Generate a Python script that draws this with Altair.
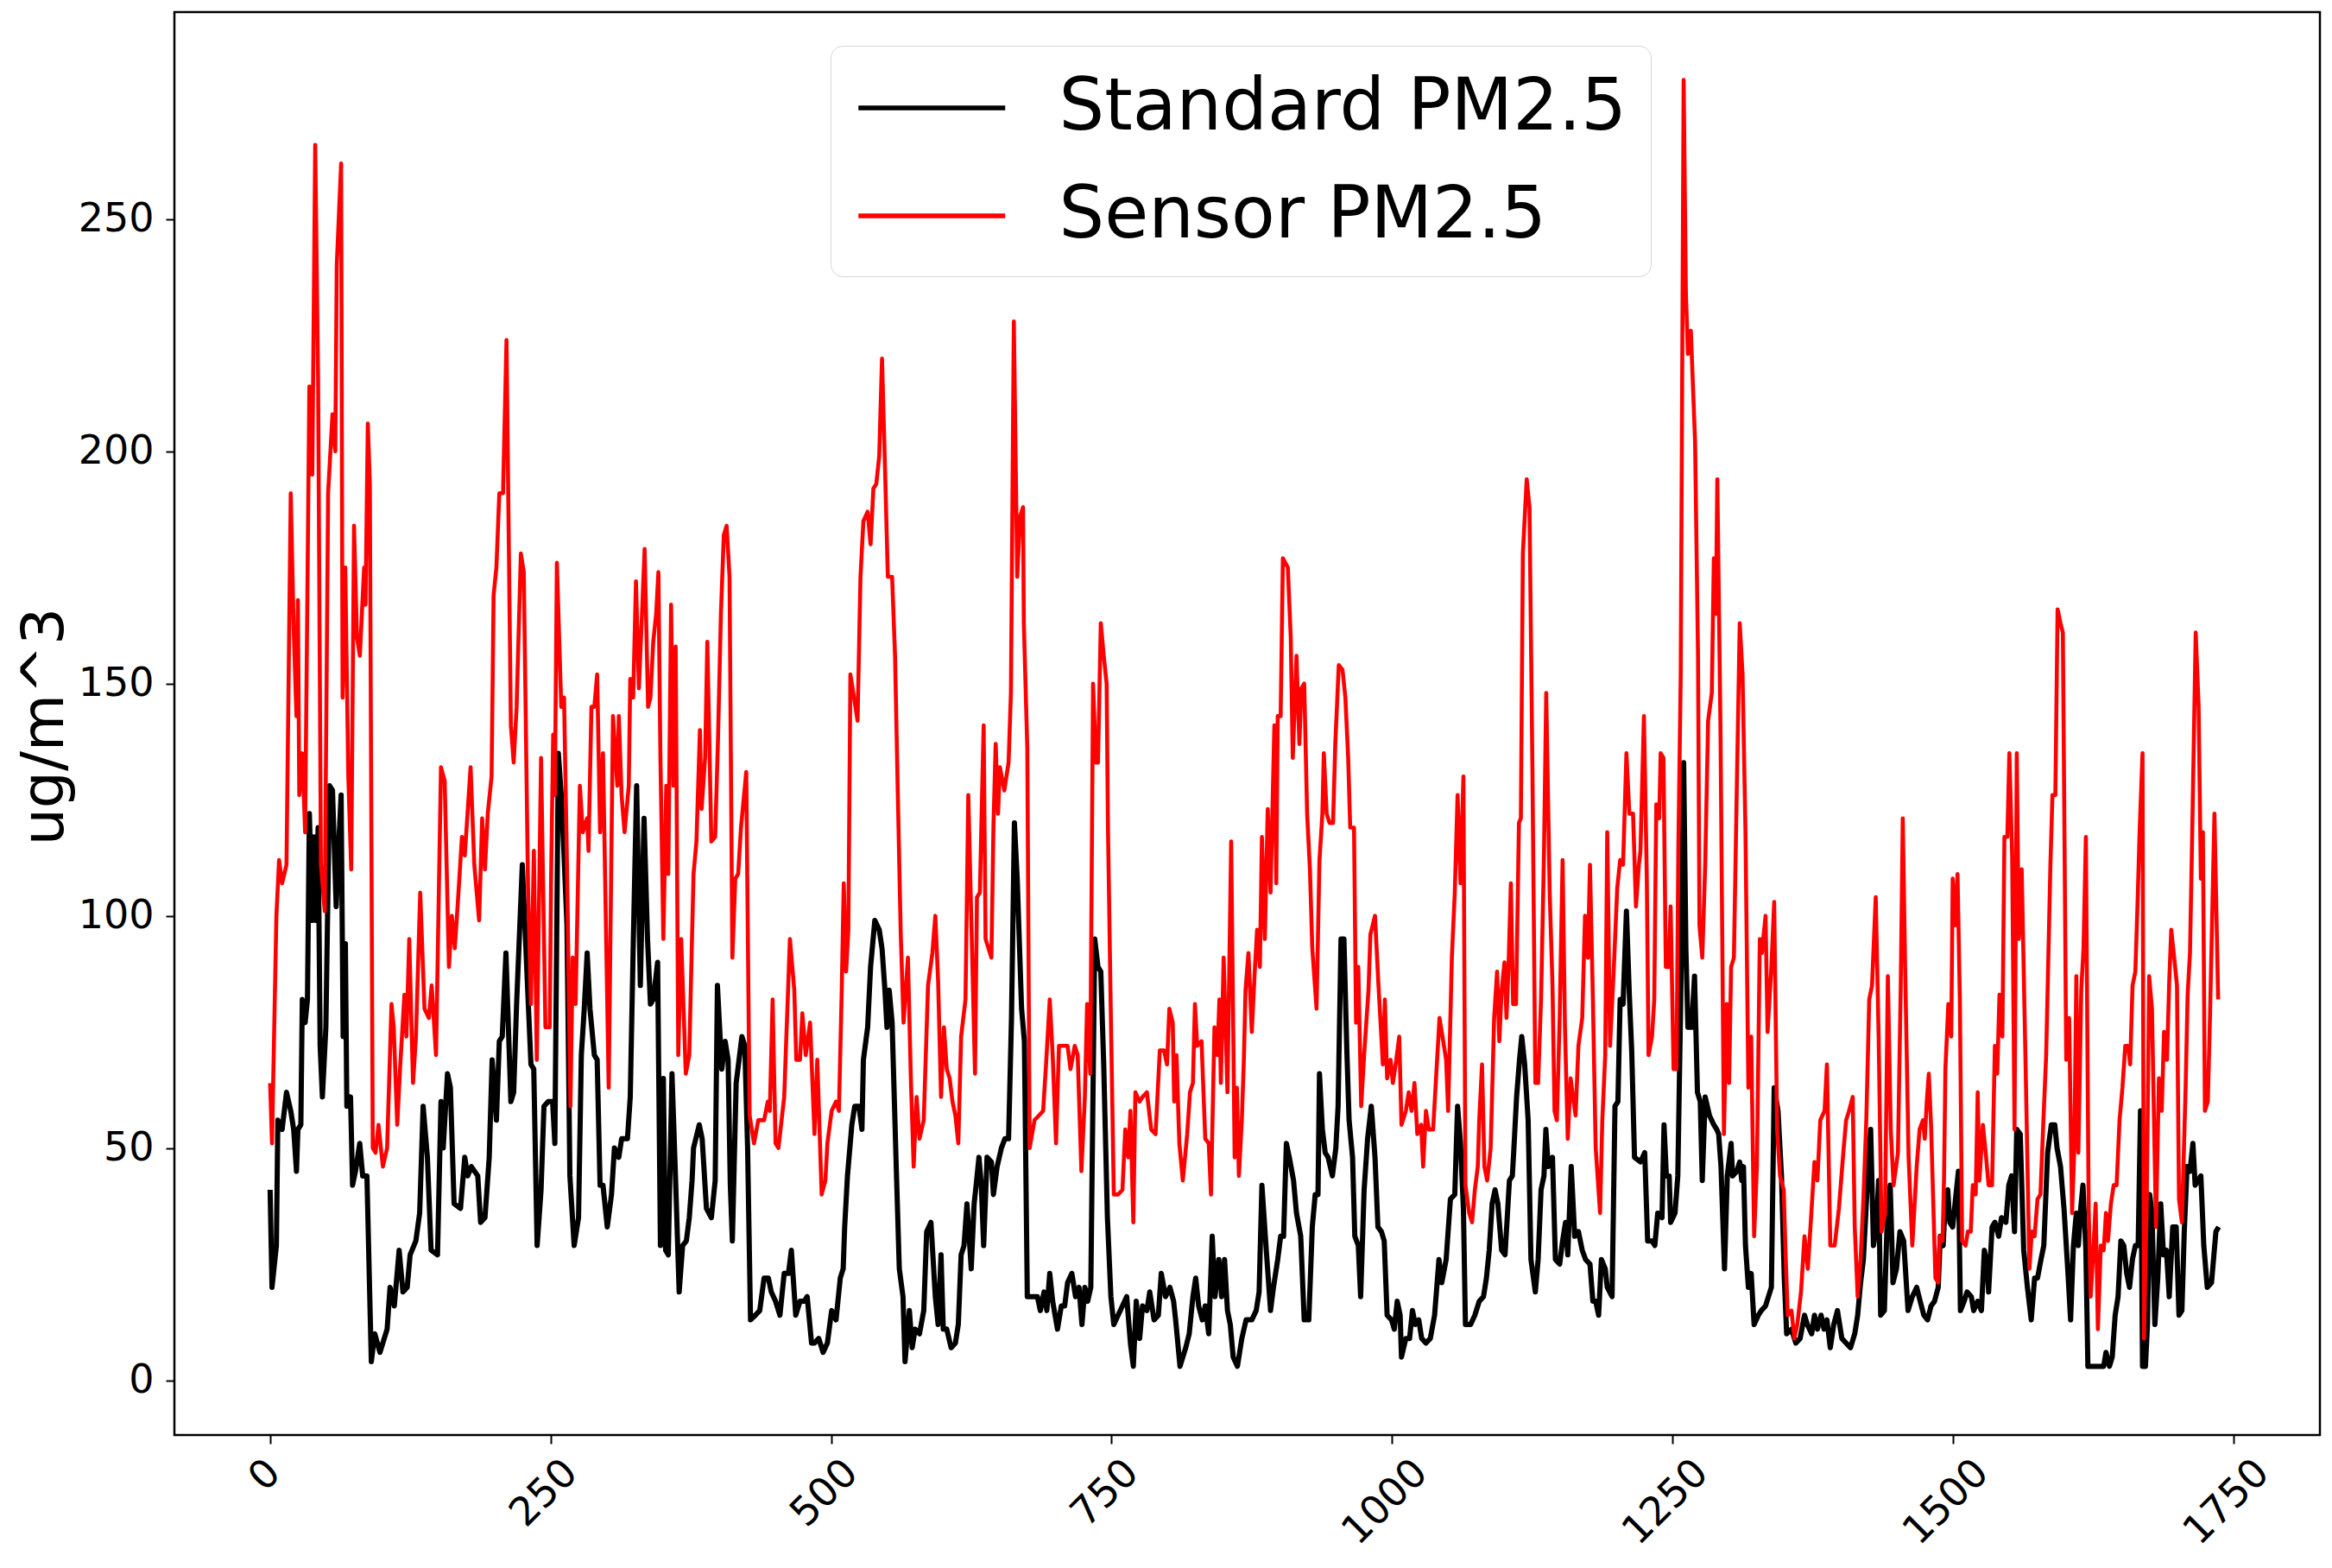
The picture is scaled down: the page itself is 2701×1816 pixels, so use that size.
import altair as alt
import pandas as pd

# ---- Standard PM2.5 (black) ----
std_x = [0, 1.7, 5.6, 6.9, 10.7, 14.6, 18.4, 21, 23.5, 24.8, 27.4, 28.7, 31.2, 33.3, 35, 37.6, 38.9, 41, 42.8, 44.6,
         46.6, 49.7, 53, 55.6, 58.9, 60.7, 63.3, 65.1, 67.1, 68.4, 71.7, 73.5, 76.1, 79.9, 82.5, 86.3, 90.2, 93.3, 97.9, 104.3,
         106.9, 110.7, 115, 118.4, 122.2, 124.8, 129.9, 133.3, 136.4, 140.2, 143.5, 149.2, 152.3, 154.3, 158.1, 160.7, 164, 169.7, 173.5, 176.1,
         179.4, 185.1, 187.6, 191.5, 195.3, 197.9, 201.7, 204.3, 206.9, 210.2, 214.6, 217.1, 219.7, 224.8, 228.7, 232.5, 235, 238, 241.5, 244.1,
         247.9, 251.8, 253.8, 256.9, 259.5, 262, 264.6, 267.2, 271, 274.9, 277.4, 280, 282.6, 285.1, 289, 291.5, 294.1, 296.7, 300.5, 304.3,
         306.9, 310.8, 313.3, 318.5, 321, 323.6, 326.7, 330, 333.3, 336.4, 339, 341.5, 345.4, 347.9, 350.5, 352.5, 354.9, 358.2, 361.3, 364.6,
         367.7, 371, 373.6, 376.1, 377.4, 382.5, 385.1, 388.9, 393.3, 396.7, 398.7, 402.6, 405.6, 408.2, 410.2, 412, 415.4, 420.5, 423.1, 425.6,
         428.2, 432.5, 436.4, 440.3, 444.1, 446.7, 450.5, 454.4, 458.2, 462, 464.6, 468.5, 472.3, 476.1, 478.7, 482.6, 485.2, 489, 492.9, 496.7,
         500.5, 504.4, 508.2, 510.8, 512.1, 514.6, 518.5, 521.1, 524.9, 527.5, 528.8, 532.6, 535.2, 539, 542.9, 545.4, 548, 549.8, 551.8, 554.4,
         558.2, 560.8, 564.1, 565.9, 569.8, 572.3, 574.9, 578.8, 582.6, 585.2, 589, 592.9, 595.4, 598, 600, 603.1, 607, 610.8, 613.4, 615.9,
         618.5, 621.1, 623.6, 624.9, 627.5, 629.3, 631.8, 633.9, 636, 639, 642.9, 644.7, 648, 651.8, 654.9, 658.2, 660.8, 663.4, 665.9, 669.8,
         672.3, 674.9, 680, 683.9, 686.5, 689.8, 692.3, 694.9, 697.5, 701.8, 705.2, 708.2, 710.8, 714.6, 717.9, 721, 723.6, 726.2, 728.7, 731.5,
         735, 737.9, 740.4, 743, 746.3, 749.4, 752, 755.8, 759.7, 763.5, 766.8, 769.4, 772, 775, 777.6, 781.5, 784, 787.9, 791.7, 794.3,
         798.1, 802, 805.3, 807.1, 811, 816.1, 819.2, 822.5, 825, 827.6, 830.9, 833.5, 836.6, 839.7, 842.2, 845.6, 848.1, 850.7, 853.3, 855.8,
         858.4, 862.2, 866.1, 869.9, 875, 878.9, 881.5, 884, 887.9, 891.7, 894.3, 898.1, 900.7, 903.3, 905.8, 908.4, 912.2, 914.8, 918.6, 921.7,
         925.8, 928.9, 931.5, 934, 935.3, 937.9, 940.4, 943, 946.8, 949.9, 951.9, 954.5, 957.1, 959.7, 961.7, 964.8, 966.8, 969.9, 972, 975.1,
         978.2, 981.5, 984.8, 987.4, 990.5, 993, 995.6, 999.5, 1002, 1004.6, 1007.2, 1008.4, 1012.3, 1015.6, 1018.2, 1020.7, 1023.8, 1026.4, 1030.2, 1034.1,
         1037.9, 1041.8, 1044.3, 1048.2, 1052, 1055.9, 1058.4, 1061, 1063.6, 1065.4, 1070, 1073.8, 1077.7, 1081.5, 1084.1, 1086.6, 1089.2, 1091.8, 1094.3, 1097.7,
         1100.7, 1104.6, 1107.2, 1108.4, 1111, 1113.6, 1115.6, 1118.2, 1121.3, 1123.8, 1127.7, 1130.2, 1132.8, 1135.4, 1137.1, 1139.2, 1143, 1145.6, 1149.4, 1152,
         1154.6, 1156.6, 1159.7, 1162.8, 1166.1, 1169.5, 1172.5, 1176.4, 1179, 1181.5, 1184.1, 1186.6, 1190, 1191.8, 1196.1, 1198.7, 1201.3, 1203.3, 1205.9, 1208.9,
         1211.5, 1213.6, 1216.1, 1221.4, 1225.2, 1227.8, 1231.7, 1234.2, 1236.8, 1240.6, 1242.4, 1244.5, 1247, 1248.3, 1252.2, 1254.7, 1257.3, 1259.9, 1261.9, 1263.7,
         1267, 1269.6, 1272.2, 1274.7, 1276.5, 1279.1, 1282.9, 1286.8, 1289.4, 1291.1, 1293.2, 1296.3, 1298.8, 1302.2, 1303.5, 1307.3, 1309.9, 1311.7, 1313.2, 1315,
         1317.6, 1320.1, 1322.7, 1326.5, 1329.1, 1332.9, 1335.5, 1338.1, 1340.6, 1344, 1347.1, 1349.6, 1351.7, 1356, 1359.9, 1363.7, 1367.6, 1370.1, 1374, 1376.5,
         1379.1, 1382.4, 1385, 1387.6, 1390.6, 1393.7, 1397, 1400.9, 1404.7, 1408.6, 1412.4, 1415, 1417.6, 1420.1, 1424, 1426.6, 1429.1, 1431.7, 1433.7, 1435.5,
         1438.8, 1441.4, 1444, 1446.5, 1449.6, 1452.7, 1456, 1459.9, 1463.7, 1467.6, 1470.7, 1474, 1477.3, 1480.4, 1483.5, 1486.8, 1488.6, 1491.2, 1493.2, 1495.3,
         1497.1, 1499.7, 1502.2, 1504.8, 1506.6, 1509.9, 1512.5, 1516.3, 1518.4, 1521.9, 1525.3, 1527.9, 1530.4, 1531.7, 1534.8, 1537.3, 1540.7, 1543.2, 1547.1, 1549.7,
         1552.2, 1554.8, 1556.8, 1559.9, 1563, 1566.3, 1569.7, 1572.7, 1575.3, 1578.4, 1580.9, 1584.3, 1587.6, 1590.7, 1592.7, 1595.8, 1598.9, 1602.2, 1604.8, 1607.3,
         1609.9, 1611.7, 1613.8, 1615.8, 1618.4, 1620.2, 1624, 1627.9, 1631.7, 1634.3, 1636.3, 1639.4, 1641.9, 1644.5, 1647.1, 1649.6, 1652.2, 1654.8, 1657.3, 1659.9,
         1662.5, 1665, 1667.1, 1668.9, 1671.5, 1673.3, 1675.3, 1677.3, 1679.9, 1682.5, 1685.1, 1687.6, 1690.2, 1692.7, 1695.8, 1698.9, 1701.4, 1704, 1706.1, 1708.6,
         1711.2, 1713.8, 1715.8, 1718.4, 1720.9, 1723.5, 1726.6, 1730.4, 1734.3, 1736.8]
std_y = [41, 20, 29, 56, 54, 62, 58, 54, 45, 54, 55, 82, 77, 82, 122, 99, 117, 99, 119, 72,
         61, 76, 128, 127, 102, 113, 126, 74, 94, 59, 61, 42, 45, 51, 44, 44, 4, 10, 6, 11,
         20, 16, 28, 19, 20, 27, 30, 36, 59, 48, 28, 27, 60, 50, 66, 63, 38, 37, 48, 44,
         46, 44, 34, 35, 48, 69, 56, 73, 74, 92, 60, 62, 81, 111, 89, 68, 67, 29, 41, 59,
         60, 60, 51, 135, 126, 113, 98, 44, 29, 35, 70, 80, 92, 80, 70, 69, 42, 42, 33, 40,
         50, 48, 52, 52, 61, 93, 128, 85, 121, 95, 81, 82, 90, 29, 65, 28, 27, 66, 44, 19,
         29, 30, 35, 43, 50, 55, 52, 37, 35, 43, 85, 67, 73, 69, 42, 30, 64, 74, 72, 50,
         13, 14, 15, 22, 22, 19, 17, 14, 23, 23, 28, 14, 17, 17, 18, 8, 8, 9, 6, 8,
         15, 13, 22, 24, 33, 44, 55, 59, 59, 54, 69, 76, 89, 99, 97, 93, 84, 76, 84, 77,
         45, 24, 18, 4, 15, 7, 11, 10, 15, 32, 34, 18, 12, 27, 11, 11, 7, 8, 12, 27,
         29, 38, 29, 24, 38, 42, 48, 42, 29, 48, 47, 40, 46, 50, 52, 52, 78, 120, 108, 80,
         73, 18, 18, 18, 15, 19, 15, 23, 17, 11, 16, 16, 21, 23, 18, 20, 12, 20, 17, 20,
         95, 89, 88, 68, 35, 18, 12, 14, 16, 18, 8, 3, 17, 9, 16, 15, 19, 13, 14, 23,
         18, 20, 17, 13, 3, 7, 10, 18, 22, 16, 13, 16, 10, 31, 18, 26, 18, 26, 15, 12,
         5, 3, 9, 13, 13, 15, 19, 42, 28, 15, 20, 26, 31, 31, 51, 48, 43, 36, 31, 13,
         13, 33, 40, 40, 66, 54, 49, 48, 44, 50, 59, 95, 95, 71, 56, 48, 31, 29, 18, 41,
         52, 59, 48, 33, 32, 30, 14, 13, 11, 17, 14, 5, 9, 9, 15, 12, 13, 9, 8, 9,
         14, 26, 21, 26, 39, 40, 59, 51, 37, 12, 12, 14, 17, 18, 22, 28, 38, 41, 38, 28,
         27, 43, 44, 49, 61, 69, 74, 68, 56, 26, 19, 26, 41, 44, 54, 46, 48, 26, 25, 30,
         34, 27, 46, 31, 32, 28, 26, 25, 17, 17, 14, 26, 24, 20, 18, 59, 60, 82, 81, 101,
         83, 71, 48, 47, 49, 30, 30, 29, 36, 35, 55, 44, 44, 34, 36, 44, 82, 133, 93, 76,
         76, 87, 62, 60, 43, 61, 57, 55, 54, 53, 46, 24, 44, 51, 44, 45, 47, 43, 46, 29,
         20, 23, 12, 14, 15, 16, 18, 20, 63, 58, 44, 22, 10, 11, 8, 9, 14, 12, 10, 14,
         11, 14, 11, 13, 7, 12, 15, 9, 8, 7, 10, 14, 21, 26, 44, 54, 29, 33, 43, 14,
         15, 35, 42, 21, 24, 32, 30, 15, 18, 20, 17, 14, 13, 16, 17, 20, 31, 29, 39, 41,
         34, 33, 39, 45, 15, 17, 19, 18, 15, 17, 15, 28, 25, 19, 33, 34, 31, 35, 34, 42,
         44, 32, 54, 53, 28, 20, 13, 22, 22, 26, 29, 49, 55, 55, 50, 46, 37, 24, 13, 29,
         36, 29, 37, 42, 28, 3, 3, 3, 3, 3, 6, 3, 5, 14, 18, 30, 29, 23, 20, 26,
         29, 29, 58, 3, 3, 12, 40, 36, 12, 22, 38, 27, 28, 18, 33, 33, 14, 15, 32, 46,
         45, 51, 42, 43, 44, 29, 20, 21, 32, 33]

# ---- Sensor PM2.5 (red) ----
sen_x = [0, 1.7, 5.6, 8, 10.7, 14.6, 18.4, 21, 23.5, 24.8, 26, 28.7, 31.2, 35, 37.6, 40.2, 42.8, 45.3, 48.7, 51.7,
         55.6, 58.1, 59.4, 63.3, 64.6, 67, 69.7, 72.3, 74.8, 77.4, 80, 83.8, 85, 87.1, 88.9, 91.5, 94, 96.6, 100.5, 104.3,
         108.2, 110.2, 113.3, 115.8, 119.7, 121.5, 124, 127.4, 130, 133.8, 137.6, 141.5, 144, 147.9, 152.3, 155.6, 159.4, 162, 164.6, 167.1,
         171, 173.5, 178.7, 182, 186.3, 189, 191.5, 194, 197.4, 199.2, 201.7, 204.3, 207.6, 210.7, 214.6, 217.1, 219.7, 223.5, 226.1, 229.9,
         232.5, 235.1, 237.7, 241.5, 245.4, 249.2, 250.5, 252.3, 253.8, 255.6, 259.5, 262, 264.6, 267.7, 269.7, 272.3, 276.1, 278.7, 282.6, 283.8,
         286.4, 289, 291.5, 294.1, 296.7, 301.8, 305.6, 309.5, 310.8, 313.3, 315.9, 319.7, 321, 323.6, 326.1, 328.7, 331.3, 333.8, 336.9, 339,
         341.5, 344.1, 346.1, 347.9, 350.5, 353.1, 354.9, 357.4, 359.5, 361.5, 363.8, 366.4, 370.5, 373.6, 377.4, 380, 383.1, 384.6, 387.7, 389.7,
         393.3, 396.7, 399.2, 401.8, 404.4, 406.9, 409.5, 412, 414.6, 417.2, 419.7, 424.4, 427.4, 431.3, 435.1, 440.3, 443.6, 445.4, 447.9, 450.5,
         453.1, 458.2, 463.3, 467.2, 469, 472.3, 474.4, 477.4, 481.3, 485.2, 487.7, 491.6, 494.9, 496.7, 500.5, 504.4, 507, 509.5, 511.3, 513.4,
         515.4, 517.2, 519.8, 523.6, 526.2, 528.8, 532.6, 535.2, 537.7, 540.3, 542.9, 545.4, 548, 550.6, 554.4, 557, 559.5, 562.1, 564.6, 568.5,
         571.1, 573.6, 576.2, 578.8, 582.6, 586.4, 590.3, 592.9, 595.4, 598, 600.6, 603.1, 605.7, 608.2, 610.8, 613.4, 615.9, 619.8, 622.3, 624.9,
         628.3, 630, 632.6, 636, 637.7, 642.9, 644.7, 646.7, 648.8, 650.5, 654.4, 658.2, 660.3, 662.9, 665.9, 668.5, 671.1, 671.8, 674.9, 677,
         681.3, 685.2, 689, 691.6, 694.9, 697.5, 700.5, 703.1, 707, 710.8, 713.4, 717.2, 719.8, 723.1, 726.2, 728.2, 731, 733.5, 736.1, 737.9,
         740.4, 743, 745.6, 746.8, 749.4, 752, 755.8, 759.7, 762.2, 764.8, 766.8, 769.4, 771.2, 775, 777.6, 781.5, 785.3, 789.2, 793, 796.8,
         799.4, 801.5, 804.5, 805.8, 807.9, 810.4, 813.5, 817.4, 819.9, 822.5, 824.3, 826.3, 830.2, 833.5, 836.6, 838.6, 841.7, 844.3, 846.1, 847.4,
         849.9, 853.3, 856.6, 859.7, 861.7, 863.5, 866.1, 867.9, 869.4, 872, 875, 877.6, 879.7, 882.2, 884, 886.6, 889.2, 891.7, 895.1, 896.8,
         898.1, 900.7, 902.7, 907.1, 909.7, 911.5, 914.8, 917.4, 919.2, 921.7, 924.3, 926.8, 928.9, 932.7, 935.3, 937.9, 939.2, 941.7, 944.3, 947.4,
         949.4, 952.5, 955.8, 958.4, 960.9, 962.7, 966.1, 967.9, 969.9, 972.5, 975.1, 979, 980.7, 984.8, 987.9, 990, 991.8, 993.6, 995.6, 998.7,
         1000.7, 1003.8, 1006.4, 1008.4, 1012.3, 1014.8, 1017.4, 1020, 1022.5, 1025.9, 1027.7, 1030.2, 1032.8, 1036.6, 1039.2, 1042.3, 1045.6, 1048.2, 1050, 1053.3,
         1055.9, 1058.4, 1061, 1063.6, 1065.4, 1068.7, 1071.3, 1073.8, 1076.4, 1077.7, 1080.2, 1082.3, 1084.8, 1087.9, 1091, 1093.6, 1095.6, 1097.7, 1100.2, 1102,
         1103.8, 1105.9, 1107.9, 1110.5, 1113.1, 1114.8, 1116.6, 1120, 1122.5, 1125.1, 1127.7, 1130.2, 1132.8, 1135.4, 1137.4, 1140.5, 1143, 1144.8, 1146.9, 1149.4,
         1152, 1154.1, 1156.6, 1159.2, 1161.8, 1163.6, 1166.1, 1169.5, 1172, 1174.6, 1176.4, 1179, 1181.5, 1185.4, 1187.4, 1190, 1191.8, 1194.3, 1197.7, 1200.7,
         1203.3, 1205.9, 1208.9, 1211.5, 1214.8, 1217.4, 1220, 1221.4, 1224.5, 1227, 1228.6, 1231.7, 1233.7, 1235.5, 1238.1, 1239.4, 1241.9, 1244, 1246.5, 1248.3,
         1250.9, 1253.5, 1255.2, 1257.3, 1259.9, 1261.9, 1263.7, 1266.3, 1270.1, 1272.7, 1274, 1276.5, 1279.1, 1281.7, 1285, 1286.8, 1288.6, 1289.9, 1292.7, 1295.8,
         1298.3, 1300.4, 1302.2, 1304.7, 1307.3, 1309.9, 1312.4, 1315, 1317.6, 1320.1, 1322.7, 1325.2, 1327.8, 1329.6, 1332.9, 1334.7, 1338.1, 1340.6, 1343.2, 1345.8,
         1349.1, 1350.9, 1352.7, 1356, 1358.6, 1361.2, 1364.5, 1367.6, 1370.6, 1373.2, 1376.5, 1379.1, 1381.7, 1385.5, 1387.6, 1390.6, 1394.5, 1398.3, 1402.2, 1404.7,
         1407.3, 1410.6, 1412.4, 1415, 1417.6, 1420.1, 1422.7, 1425.3, 1427.8, 1431.1, 1433.7, 1436.3, 1439.4, 1441.9, 1444.5, 1447, 1450.9, 1453.4, 1455.2, 1457.3,
         1460.4, 1463.7, 1467.6, 1470.2, 1473.2, 1474.8, 1476.6, 1478.4, 1480.4, 1484.3, 1486.8, 1488.1, 1490.7, 1492, 1493.2, 1495.8, 1498.4, 1499.7, 1502.2, 1504,
         1506.1, 1508.1, 1511.2, 1513.2, 1515.8, 1517.6, 1520.2, 1522, 1523.5, 1526.6, 1529.1, 1531.7, 1534.8, 1537.3, 1539.4, 1541.4, 1544, 1545.8, 1548.4, 1550.2,
         1552.7, 1554.8, 1556.8, 1558.6, 1561.2, 1564.5, 1568.1, 1570.2, 1572.7, 1575.3, 1577.9, 1580.4, 1583, 1586.8, 1588.6, 1591.2, 1593.2, 1595.8, 1597.9, 1600.9,
         1603.5, 1606.1, 1608.1, 1609.9, 1611.7, 1614.3, 1616.3, 1618.4, 1620.9, 1622.7, 1625.3, 1627.1, 1629.1, 1631.7, 1634.3, 1636.3, 1638.1, 1640.7, 1643.2, 1645.8,
         1648.4, 1651, 1653.5, 1656.1, 1657.9, 1660, 1662.5, 1664.5, 1666.3, 1668.9, 1670.2, 1672.7, 1674.8, 1677.3, 1680.9, 1683.5, 1686, 1688.1, 1690.7, 1692.7,
         1694.5, 1697.1, 1699.6, 1701.4, 1704, 1707.3, 1709.1, 1711.2, 1713.2, 1716.3, 1718.9, 1720.9, 1722.7, 1724.5, 1727.1, 1729.1, 1733, 1736.3]
sen_y = [64, 51, 100, 112, 107, 111, 191, 162, 143, 168, 126, 135, 118, 214, 195, 266, 215, 111, 101, 191,
         208, 200, 240, 262, 147, 175, 130, 110, 184, 160, 156, 175, 167, 206, 193, 50, 49, 55, 46, 50,
         81, 76, 55, 67, 83, 74, 95, 64, 74, 105, 80, 78, 85, 70, 132, 129, 89, 100, 93, 102,
         117, 113, 132, 111, 99, 121, 110, 122, 130, 169, 175, 191, 191, 224, 141, 133, 145, 178, 174, 106,
         81, 114, 69, 134, 76, 76, 109, 139, 126, 176, 145, 147, 111, 59, 91, 81, 128, 118, 121, 114,
         145, 145, 152, 118, 135, 63, 143, 128, 143, 126, 118, 128, 151, 147, 172, 149, 164, 179, 145, 147,
         159, 165, 174, 134, 95, 128, 109, 167, 128, 158, 70, 95, 66, 70, 109, 116, 140, 123, 134, 159,
         116, 117, 138, 165, 182, 184, 173, 91, 108, 109, 119, 131, 57, 51, 56, 56, 60, 58, 82, 51,
         50, 61, 95, 84, 69, 69, 79, 70, 77, 53, 69, 40, 43, 51, 58, 60, 58, 84, 107, 88,
         97, 152, 148, 142, 173, 185, 187, 180, 192, 193, 199, 220, 197, 173, 173, 156, 126, 96, 77, 91,
         65, 46, 61, 52, 56, 85, 92, 100, 86, 61, 76, 67, 65, 60, 57, 51, 74, 82, 126, 100,
         66, 104, 105, 141, 95, 91, 119, 137, 122, 132, 127, 133, 148, 228, 173, 186, 188, 163, 136, 50,
         56, 57, 58, 68, 82, 70, 51, 72, 72, 72, 67, 72, 70, 45, 61, 81, 66, 150, 133, 133,
         163, 156, 150, 119, 78, 40, 40, 41, 54, 48, 58, 34, 62, 60, 61, 62, 54, 53, 71, 71,
         68, 80, 77, 60, 70, 51, 43, 53, 62, 64, 81, 72, 73, 52, 51, 40, 76, 70, 82, 64,
         91, 62, 116, 48, 63, 44, 56, 69, 84, 92, 75, 88, 97, 89, 117, 95, 123, 105, 141, 107,
         143, 143, 177, 175, 160, 134, 156, 137, 149, 150, 122, 110, 93, 80, 112, 122, 135, 122, 120, 120,
         137, 154, 153, 147, 134, 119, 119, 77, 89, 59, 70, 84, 96, 100, 85, 76, 68, 82, 65, 69,
         64, 69, 74, 55, 58, 62, 58, 64, 53, 55, 46, 58, 54, 54, 65, 78, 73, 69, 58, 91,
         105, 126, 107, 130, 42, 36, 34, 41, 46, 56, 68, 46, 43, 50, 78, 88, 73, 84, 90, 78,
         89, 107, 81, 81, 120, 121, 178, 194, 188, 132, 64, 64, 82, 113, 148, 105, 85, 58, 56, 78,
         112, 76, 52, 65, 60, 57, 72, 78, 100, 91, 111, 82, 50, 36, 56, 70, 118, 72, 89, 106,
         112, 111, 135, 122, 122, 102, 111, 114, 143, 109, 70, 74, 82, 124, 121, 135, 134, 89, 89, 102,
         67, 67, 115, 152, 280, 234, 221, 226, 202, 156, 98, 91, 111, 142, 148, 177, 165, 194, 141, 53,
         81, 64, 89, 91, 128, 163, 152, 118, 63, 74, 31, 46, 95, 92, 100, 75, 89, 103, 54, 44,
         41, 26, 14, 15, 9, 12, 19, 31, 24, 34, 47, 43, 56, 58, 68, 29, 29, 37, 49, 56,
         58, 61, 33, 18, 26, 39, 56, 82, 85, 104, 74, 32, 36, 87, 54, 42, 49, 85, 121, 89,
         48, 29, 46, 54, 56, 52, 60, 66, 55, 22, 21, 31, 30, 44, 67, 81, 74, 108, 98, 109,
         82, 30, 29, 32, 32, 42, 40, 62, 43, 55, 49, 42, 42, 72, 66, 83, 74, 117, 117, 135,
         113, 54, 135, 95, 110, 70, 24, 32, 31, 39, 40, 55, 70, 111, 126, 126, 166, 163, 161, 69,
         78, 36, 50, 87, 49, 84, 93, 117, 37, 18, 29, 38, 11, 29, 28, 36, 30, 38, 42, 42,
         56, 63, 72, 72, 68, 85, 88, 103, 118, 135, 9, 39, 87, 80, 33, 65, 58, 75, 69, 86,
         97, 91, 85, 39, 34, 63, 83, 92, 118, 161, 145, 108, 118, 58, 60, 79, 122, 82]

x_ticks = [0, 250, 500, 750, 1000, 1250, 1500, 1750]
y_ticks = [0, 50, 100, 150, 200, 250]
series_names = ["Standard PM2.5", "Sensor PM2.5"]
series_colors = ["black", "red"]

std_df = pd.DataFrame({"t": std_x, "v": std_y, "series": series_names[0]})
sen_df = pd.DataFrame({"t": sen_x, "v": sen_y, "series": series_names[1]})

FONT = "DejaVu Sans"

x_enc = alt.X(
    "t:Q",
    scale=alt.Scale(domain=[-85.3, 1827], nice=False, zero=False),
    axis=alt.Axis(
        values=x_ticks, format="d", title=None, grid=False, domain=False,
        labelAngle=315, labelAlign="right", labelBaseline="middle",
        labelPadding=26, labelFontSize=46, labelFont=FONT, labelColor="black",
        labelOffset={"condition": [{"test": "datum.value == 0", "value": 4},
                                   {"test": "datum.value < 1000", "value": 23}],
                     "value": 33},
        tickSize=10, tickWidth=2, tickColor="black", labelFlush=False,
    ),
)
y_enc = alt.Y(
    "v:Q",
    scale=alt.Scale(domain=[-11.8, 294.6], nice=False, zero=False),
    axis=alt.Axis(
        values=y_ticks, grid=False, domain=False,
        labelFontSize=46, labelFont=FONT, labelColor="black", labelPadding=14,
        tickSize=10, tickWidth=2, tickColor="black",
        title="ug/m^3", titleFontSize=68, titleFont=FONT, titleFontWeight="normal",
        titleColor="black", titleAngle=270, titleAlign="center", titleBaseline="bottom",
        titleX=-116, titleY=827,
    ),
)
color_enc = alt.Color(
    "series:N",
    scale=alt.Scale(domain=series_names, range=series_colors),
    legend=alt.Legend(
        title=None, orient="none", legendX=760, legendY=39,
        labelFontSize=83, labelFont=FONT, labelColor="black", labelLimit=2000,
        symbolType="M-0.958,0H3.139", symbolSize=6889, symbolStrokeWidth=5.5,
        symbolFillColor="transparent",
        labelOffset=148, rowPadding=38, padding=27.5,
        strokeColor="#d6d6d6", cornerRadius=14, fillColor="white",
    ),
)

std_line = alt.Chart(std_df).mark_line(strokeWidth=6, strokeJoin="round").encode(
    x=x_enc, y=y_enc, color=color_enc
)
sen_line = alt.Chart(sen_df).mark_line(strokeWidth=4.6, strokeJoin="round").encode(
    x=x_enc, y=y_enc, color=color_enc
)

chart = alt.layer(std_line, sen_line).properties(
    width=2485, height=1648,
    autosize=alt.AutoSizeParams(type="none"),
    padding={"left": 194, "top": 6, "right": 6, "bottom": 150},
    background="white",
).configure_view(
    stroke="black", strokeWidth=2.5
)

chart.save("out.html", embed_options={"renderer": "svg", "actions": False})
